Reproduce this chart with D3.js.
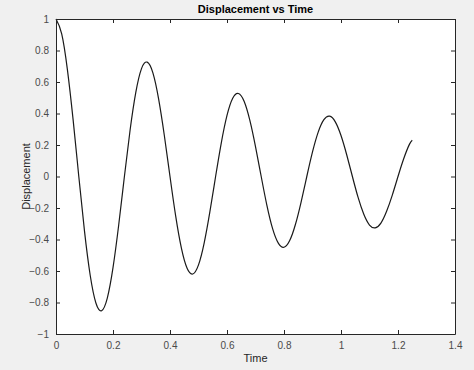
<!DOCTYPE html>
<html>
<head>
<meta charset="utf-8">
<script src="https://cdn.jsdelivr.net/npm/d3@7"></script>
<style>
  body { margin: 0; background: #f0f0f0; }
  svg { display: block; font-family: "Liberation Sans", Arial, sans-serif; }
</style>
</head>
<body>
<svg></svg>
<script>
// values
var times = [0, 0.02, 0.04, 0.06, 0.08, 0.10, 0.12, 0.14, 0.16, 0.18,
             0.20, 0.22, 0.24, 0.26, 0.28, 0.30, 0.32, 0.34, 0.36, 0.38,
             0.40, 0.42, 0.44, 0.46, 0.48, 0.50, 0.52, 0.54, 0.56, 0.58,
             0.60, 0.62, 0.64, 0.66, 0.68, 0.70, 0.72, 0.74, 0.76, 0.78,
             0.80, 0.82, 0.84, 0.86, 0.88, 0.90, 0.92, 0.94, 0.96, 0.98,
             1.00, 1.02, 1.04, 1.06, 1.08, 1.10, 1.12, 1.14, 1.16, 1.18,
             1.20, 1.22, 1.24, 1.25];
var displacement = [1.00, 0.906, 0.679, 0.361, 0, -0.347, -0.627, -0.803, -0.852, -0.772,
                    -0.579, -0.308, 0, 0.295, 0.534, 0.685, 0.726, 0.658, 0.493, 0.262,
                    0, -0.252, -0.455, -0.583, -0.619, -0.561, -0.421, -0.223, 0, 0.214,
                    0.388, 0.497, 0.527, 0.478, 0.358, 0.190, 0, -0.183, -0.331, -0.423,
                    -0.449, -0.407, -0.305, -0.162, 0, 0.156, 0.282, 0.361, 0.383, 0.347,
                    0.260, 0.138, 0, -0.133, -0.240, -0.308, -0.326, -0.296, -0.221, -0.118,
                    0, 0.113, 0.204, 0.23];
var xTicks = [0, 0.2, 0.4, 0.6, 0.8, 1, 1.2, 1.4];
var yTicks = [-1, -0.8, -0.6, -0.4, -0.2, 0, 0.2, 0.4, 0.6, 0.8, 1];

var svgWidth = 474, svgHeight = 370;
var plotLeft = 56, plotRight = 455, plotTop = 19, plotBottom = 334;
var axisColor = "#262626";

var svg = d3.select("svg")
            .attr("width", svgWidth)
            .attr("height", svgHeight);

var x = d3.scaleLinear().domain([0, 1.4]).range([plotLeft, plotRight]);
var y = d3.scaleLinear().domain([-1, 1]).range([plotBottom, plotTop]);

// white plot area
svg.append("rect")
   .attr("x", plotLeft).attr("y", plotTop)
   .attr("width", plotRight - plotLeft).attr("height", plotBottom - plotTop)
   .attr("fill", "#ffffff");

// the curve
var line = d3.line()
             .x(function(d, i) { return x(times[i]); })
             .y(function(d) { return y(d); })
             .curve(d3.curveNatural);

svg.append("path")
   .datum(displacement)
   .attr("d", line)
   .attr("fill", "none")
   .attr("stroke", "#1a1a1a")
   .attr("stroke-width", 1.2);

// axes, ticks pointing inward on all four sides
function styleAxis(g) {
  g.selectAll("path").attr("stroke", axisColor);
  g.selectAll("line").attr("stroke", axisColor);
  g.selectAll("text").attr("fill", "#4a4a4a").style("font-size", "10px");
}

svg.append("g")
   .attr("transform", "translate(0," + plotBottom + ")")
   .call(d3.axisBottom(x).tickValues(xTicks).tickSize(-4).tickSizeOuter(0).tickPadding(8).tickFormat(d3.format("")))
   .call(styleAxis);

svg.append("g")
   .attr("transform", "translate(0," + plotTop + ")")
   .call(d3.axisTop(x).tickValues(xTicks).tickSize(-4).tickSizeOuter(0).tickFormat(""))
   .call(styleAxis);

svg.append("g")
   .attr("transform", "translate(" + plotLeft + ",0)")
   .call(d3.axisLeft(y).tickValues(yTicks).tickSize(-4).tickSizeOuter(0).tickPadding(7).tickFormat(d3.format("")))
   .call(styleAxis);

svg.append("g")
   .attr("transform", "translate(" + plotRight + ",0)")
   .call(d3.axisRight(y).tickValues(yTicks).tickSize(-4).tickSizeOuter(0).tickFormat(""))
   .call(styleAxis);

svg.selectAll(".domain").attr("stroke-width", 1);

// title and labels
svg.append("text")
   .attr("x", (plotLeft + plotRight) / 2).attr("y", 13)
   .attr("text-anchor", "middle")
   .style("font-size", "11px").style("font-weight", "bold")
   .attr("fill", "#000")
   .text("Displacement vs Time");

svg.append("text")
   .attr("x", (plotLeft + plotRight) / 2).attr("y", 362)
   .attr("text-anchor", "middle")
   .style("font-size", "11px")
   .attr("fill", "#262626")
   .text("Time");

svg.append("text")
   .attr("transform", "translate(30," + (plotTop + plotBottom) / 2 + ") rotate(-90)")
   .attr("text-anchor", "middle")
   .style("font-size", "11px")
   .attr("fill", "#262626")
   .text("Displacement");
</script>
</body>
</html>
